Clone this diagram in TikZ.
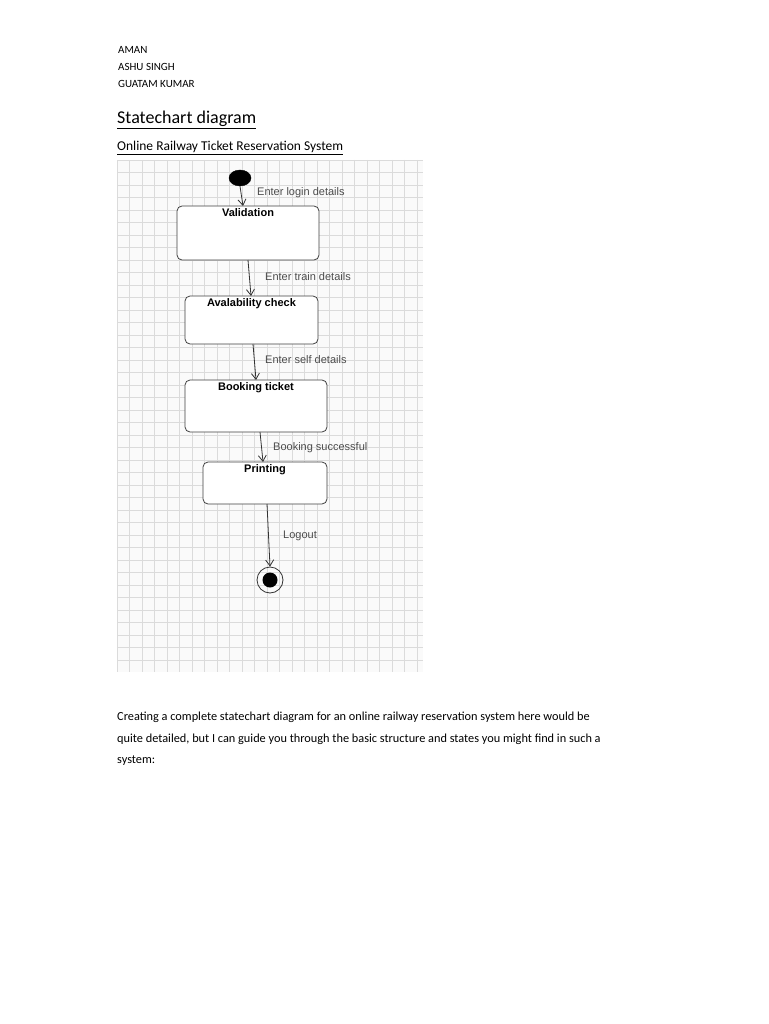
\documentclass[tikz,border=0pt]{standalone}
\usepackage{fontspec}
\setmainfont{Carlito}
\newfontfamily\diafont{Liberation Sans}
\usetikzlibrary{arrows.meta, shapes.geometric}
\tikzset{
  statebox/.style={draw=black!75, thick, rounded corners=5pt, fill=white, inner sep=0pt},
  title/.style={below=2pt, font=\diafont\bfseries\fontsize{11}{13}\selectfont, inner sep=1pt},
  trans/.style={draw=black!80, thick, -{Straight Barb[length=6pt,width=8pt]}},
  tlabel/.style={anchor=west, font=\diafont\fontsize{11}{13}\selectfont, text=black!70, inner sep=0pt},
  head/.style={anchor=west, font=\fontsize{11}{13}\selectfont, inner sep=0pt},
}
\begin{document}
\begin{tikzpicture}[x=1pt,y=-1pt]
  \useasboundingbox (0,0) rectangle (768,1024);
  \fill[white] (0,0) rectangle (768,1024);

  % names and headings
  \node[head] (n1) at (118,50) {AMAN};
  \node[head] (n2) at (118,67) {ASHU SINGH};
  \node[head] (n3) at (118,84) {GUATAM KUMAR};
  \node[head, font=\fontsize{18}{20}\selectfont] (hd) at (117,120) {\underline{Statechart diagram}};
  \node[head, font=\fontsize{13.5}{15}\selectfont] (sub) at (117,148) {\underline{Online Railway Ticket Reservation System}};

  % grid background
  \fill[black!2] (117,160) rectangle (423,672);
  \foreach \gx in {0,...,24} \draw[black!14, line width=0.5pt] (117+\gx*12.5,160) -- (117+\gx*12.5,672);
  \foreach \gy in {0,...,40} \draw[black!14, line width=0.5pt] (117,160+\gy*12.5) -- (423,160+\gy*12.5);

  % states
  \node[statebox, minimum width=142, minimum height=54] (val) at (248,233) {};
  \node[title] (valT) at (val.north) {Validation};
  \node[statebox, minimum width=133, minimum height=48] (avl) at (251.5,320) {};
  \node[title] (avlT) at (avl.north) {Avalability check};
  \node[statebox, minimum width=142, minimum height=52] (bok) at (256,406) {};
  \node[title] (bokT) at (bok.north) {Booking ticket};
  \node[statebox, minimum width=124, minimum height=42] (prn) at (265,483) {};
  \node[title] (prnT) at (prn.north) {Printing};

  % initial and final
  \node[fill=black, ellipse, minimum width=22, minimum height=16, inner sep=0pt, draw] (ini) at (240,178) {};
  \node[circle, draw=black!80, thick, minimum size=26, inner sep=0pt] (fin) at (270,580) {};
  \node[circle, fill=black, minimum size=15, inner sep=0pt] (finI) at (fin) {};

  % transitions
  \draw[trans] (ini.south) -- (243,206);
  \draw[trans] (248,260) -- (251,296);
  \draw[trans] (253,344) -- (256,380);
  \draw[trans] (260,432) -- (263,462);
  \draw[trans] (267,504) -- (fin.north);

  \node[tlabel] (l1) at (257,193) {Enter login details};
  \node[tlabel] (l2) at (265,277) {Enter train details};
  \node[tlabel] (l3) at (265,360) {Enter self details};
  \node[tlabel] (l4) at (273,448) {Booking successful};
  \node[tlabel] (l5) at (283,536) {Logout};

  % paragraph
  \node[head, font=\fontsize{12.3}{15}\selectfont] (p1) at (117,717) {Creating a complete statechart diagram for an online railway reservation system here would be};
  \node[head, font=\fontsize{12.3}{15}\selectfont] (p2) at (117,739) {quite detailed, but I can guide you through the basic structure and states you might find in such a};
  \node[head, font=\fontsize{12.3}{15}\selectfont] (p3) at (117,761) {system:};
\end{tikzpicture}
\end{document}
